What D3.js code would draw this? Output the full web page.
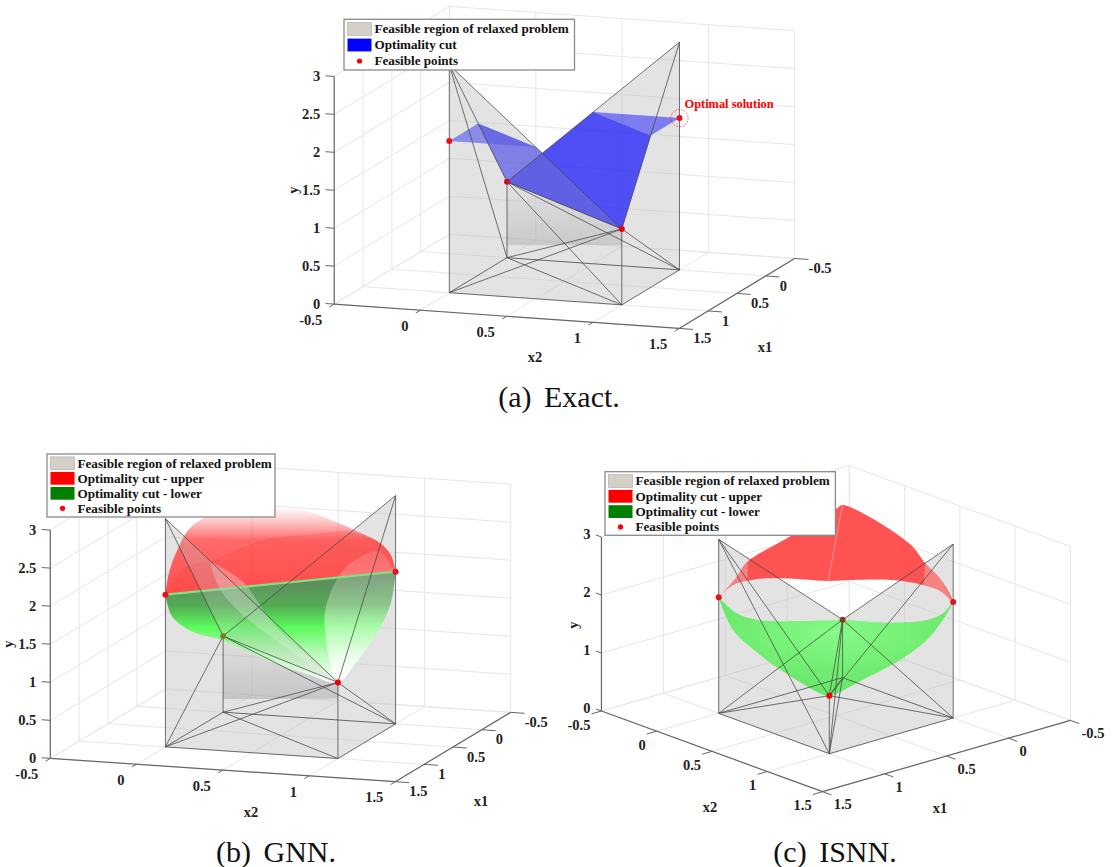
<!DOCTYPE html>
<head>
  <meta charset="utf-8">
  <script src="https://d3js.org/d3.v7.min.js"></script>
  <style>
    html, body { margin: 0; background: #fff; }
    text { font-family: "Liberation Serif", serif; }
  </style>
</head>
<body>
  <script>
    // axis ticks
    var xTicks = [-0.5, 0, 0.5, 1, 1.5];
    var xTickLabels = ["-0.5", "0", "0.5", "1", "1.5"];
    var yTicksFine = [0, 0.5, 1, 1.5, 2, 2.5, 3];
    var yTicksCoarse = [0, 1, 2, 3];

    // feasible points [x1, x2, y]
    var feasiblePoints = [[1, 0, 2], [0, 1, 2], [0, 0, 1], [1, 1, 1]];

    // faces of the relaxed region, [x1, x2, y]
    var faceBottom = [[1, 0, 0], [1, 1, 0], [0, 1, 0], [0, 0, 0]];
    var faceBackA = [[1, 0, 0], [0, 0, 0], [0, 0, 1], [1, 0, 3]];
    var faceBackB = [[0, 0, 0], [0, 1, 0], [0, 1, 3], [0, 0, 1]];
    var faceRight = [[1, 1, 0], [0, 1, 0], [0, 1, 3], [1, 1, 1]];
    var faceFront = [[1, 0, 0], [1, 1, 0], [1, 1, 1], [1, 0, 3]];
    var faceTopA = [[1, 0, 3], [0, 0, 1], [1, 1, 1]];
    var faceTopB = [[0, 1, 3], [0, 0, 1], [1, 1, 1]];
    var shadeFace = [[1, 0.334, 0.68], [1, 1, 0.788], [1, 1, 1.008], [1, 0.334, 1.498]];

    // polytope edges
    var edgesCommon = [
      [[1, 0, 0], [1, 1, 0]], [[1, 1, 0], [0, 1, 0]], [[0, 1, 0], [0, 0, 0]], [[0, 0, 0], [1, 0, 0]],
      [[1, 0, 0], [1, 0, 3]], [[0, 1, 0], [0, 1, 3]], [[0, 0, 0], [0, 0, 1]], [[1, 1, 0], [1, 1, 1]],
      [[1, 0, 3], [0, 0, 1]], [[1, 0, 3], [1, 1, 1]], [[0, 1, 3], [0, 0, 1]], [[0, 1, 3], [1, 1, 1]],
      [[0, 0, 1], [1, 1, 1]], [[0, 0, 0], [1, 1, 1]], [[0, 0, 0], [1, 1, 0]],
      [[1, 0, 0], [1, 1, 1]], [[0, 0, 1], [0, 1, 0]], [[1, 1, 1], [0, 1, 0]]
    ];
    var edgesA = [[[1, 0, 3], [0, 0, 0]], [[0, 0, 1], [1, 1, 0]]];
    var edgesB = [[[1, 0, 0], [0, 0, 1]]];
    var edgesC = [[[1, 0, 3], [1, 1, 0]], [[0, 0, 1], [1, 1, 0]], [[1, 0, 0], [0, 0, 1]]];

    // exact cut pieces
    var cutFlatA = [[1, 0, 2], [0.5, 0, 2], [1, 0.5, 2]];
    var cutFlatB = [[0, 1, 2], [0, 0.5, 2], [0.5, 1, 2]];
    var cutSlopeA = [[0.5, 0, 2], [1, 0.5, 2], [1, 1, 1], [0, 0, 1]];
    var cutSlopeB = [[0, 0.5, 2], [0.5, 1, 2], [1, 1, 1], [0, 0, 1]];

    // GNN outlines, u runs along x2 = u, x1 = 1 - u
    var gnnUpperU = [0, 0.015, 0.052, 0.112, 0.239, 0.404, 0.553, 0.703, 0.852, 0.934, 0.979, 1];
    var gnnUpperY = [2, 2.276, 2.571, 2.86, 3.018, 3.012, 2.976, 2.79, 2.548, 2.392, 2.225, 2];
    var gnnBandU = [0, 0.06, 0.119, 0.194, 0.299, 0.433, 0.628, 0.777, 0.927, 0.979, 1];
    var gnnBandY = [2, 2.262, 2.353, 2.374, 2.474, 2.587, 2.594, 2.592, 2.394, 2.225, 2];
    var gnnLowerU = [0, 0.03, 0.119, 0.248, 0.329, 0.478, 0.628, 0.747, 0.837, 0.927, 0.979, 1];
    var gnnLowerY = [2, 1.701, 1.477, 1.329, 1.195, 0.953, 0.754, 0.622, 0.888, 1.255, 1.59, 2];
    var gnnGlassU = [1, 0.927, 0.837, 0.762, 0.695, 0.703, 0.747, 0.837, 0.927, 0.979, 1];
    var gnnGlassY = [2, 2.284, 2.224, 2.05, 1.588, 1.104, 0.622, 0.888, 1.255, 1.59, 2];
    var gnnWedgeU = [0.194, 0.239, 0.329, 0.478, 0.747, 0.478, 0.329, 0.194];
    var gnnWedgeY = [2.374, 1.989, 1.655, 1.259, 0.622, 1.434, 2.093, 2.374];

    // ISNN outlines
    var isnnUpperU = [0, 0.077, 0.123, 0.291, 0.505, 0.528, 0.812, 0.881, 0.949, 1, 0.949, 0.873, 0.735, 0.567, 0.467, 0.276, 0.153, 0.061, 0];
    var isnnUpperY = [2, 2.363, 2.625, 3.041, 3.575, 3.634, 2.997, 2.657, 2.375, 2, 2.174, 2.283, 2.358, 2.344, 2.319, 2.35, 2.322, 2.218, 2];
    var isnnLowerU = [0, 0.077, 0.168, 0.352, 0.528, 0.735, 0.888, 0.957, 1, 0.965, 0.888, 0.75, 0.613, 0.505, 0.469, 0.276, 0.168, 0.061, 0];
    var isnnLowerY = [2, 1.73, 1.623, 1.62, 1.652, 1.622, 1.68, 1.801, 2, 1.744, 1.336, 0.922, 0.624, 0.386, 0.337, 0.741, 1.048, 1.442, 2];
    var isnnCrease = [[0.472, 0.528, 3.634], [0.533, 0.467, 2.319]];
    var isnnEndLeftU = [0, 0.077, 0.123, 0.123, 0.061, 0];
    var isnnEndLeftY = [2, 2.363, 2.625, 2.31, 2.218, 2];
    var isnnEndRightU = [1, 0.949, 0.881, 0.873, 0.949, 1];
    var isnnEndRightY = [2, 2.375, 2.657, 2.283, 2.174, 2];

    // legends
    var legendExact = ["Feasible region of relaxed problem", "Optimality cut", "Feasible points"];
    var legendLearned = ["Feasible region of relaxed problem", "Optimality cut - upper", "Optimality cut - lower", "Feasible points"];

    var svg = d3.select("body").append("svg")
      .attr("width", 1113)
      .attr("height", 867)
      .style("display", "block");

    var defs = svg.append("defs");

    function addGradient(id, stops) {
      var g = defs.append("linearGradient").attr("id", id)
        .attr("x1", 0).attr("x2", 0).attr("y1", 0).attr("y2", 1);
      stops.forEach(function(s) {
        g.append("stop").attr("offset", s[0]).attr("stop-color", s[1]).attr("stop-opacity", s[2]);
      });
    }
    addGradient("redFade", [[0, "#ff5050", 0], [0.18, "#ff5050", 0.35], [0.38, "#ff5050", 0.85], [1, "#ff4a4a", 0.95]]);
    addGradient("greenFade", [[0, "#4a6f4a", 0.85], [0.3, "#3a9f3a", 0.85], [0.5, "#44ff44", 0.85], [0.75, "#b4ffb4", 0.8], [1, "#ffffff", 1]]);
    addGradient("glassFade", [[0, "#ffffff", 0.12], [0.35, "#ffffff", 0.3], [0.75, "#ffffff", 0.6], [1, "#ffffff", 0.85]]);
    addGradient("shadeFade", [[0, "#b0b0b0", 0.05], [0.55, "#a8a8a8", 0.3], [1, "#a0a0a0", 0.45]]);

    var greenGlow = defs.append("radialGradient").attr("id", "greenGlow")
      .attr("cx", 0.5).attr("cy", 0.35).attr("r", 0.6);
    greenGlow.append("stop").attr("offset", 0).attr("stop-color", "#78ff78").attr("stop-opacity", 0.85);
    greenGlow.append("stop").attr("offset", 1).attr("stop-color", "#3fe83f").attr("stop-opacity", 0.75);

    // orthographic view: one pair of scales per data axis
    function makeView(v) {
      function s(vec, i) { return d3.scaleLinear().domain([0, 1]).range([0, vec[i]]); }
      var x1x = s(v.x1, 0), x1y = s(v.x1, 1), x2x = s(v.x2, 0), x2y = s(v.x2, 1), yy = s(v.y, 1);
      return function(p) {
        return [v.origin[0] + x1x(p[0]) + x2x(p[1]), v.origin[1] + x1y(p[0]) + x2y(p[1]) + yy(p[2])];
      };
    }

    // join the u and y arrays into [x1, x2, y]
    function outline(u, y) {
      return u.map(function(d, i) { return [1 - d, d, y[i]]; });
    }

    function drawPanel(c) {
      var proj = makeView(c.view);
      var g = svg.append("g");
      var poly = function(pts) { return "M" + pts.map(proj).join("L") + "Z"; };
      var segment = function(layer, a, b, color, w) {
        var p = proj(a), q = proj(b);
        layer.append("line").attr("x1", p[0]).attr("y1", p[1]).attr("x2", q[0]).attr("y2", q[1])
          .attr("stroke", color).attr("stroke-width", w);
      };

      // grid on floor and the two back walls
      var grid = g.append("g");
      xTicks.forEach(function(t) {
        segment(grid, [t, -0.5, 0], [t, 1.5, 0], "#e6e6e6", 1);
        segment(grid, [-0.5, t, 0], [1.5, t, 0], "#e6e6e6", 1);
        segment(grid, [-0.5, t, 0], [-0.5, t, 3], "#e6e6e6", 1);
        segment(grid, [t, -0.5, 0], [t, -0.5, 3], "#e6e6e6", 1);
      });
      c.yTicks.forEach(function(t) {
        segment(grid, [-0.5, -0.5, t], [-0.5, 1.5, t], "#e6e6e6", 1);
        segment(grid, [-0.5, -0.5, t], [1.5, -0.5, t], "#e6e6e6", 1);
      });

      // axes and ticks
      var axes = g.append("g");
      segment(axes, [1.5, -0.5, 0], [1.5, -0.5, 3], "#666", 1.2);
      segment(axes, [1.5, -0.5, 0], [1.5, 1.5, 0], "#666", 1.2);
      segment(axes, [1.5, 1.5, 0], [-0.5, 1.5, 0], "#666", 1.2);
      var tickText = function(p, dx, dy, anchor, label) {
        axes.append("text").attr("x", p[0] + dx).attr("y", p[1] + dy)
          .attr("text-anchor", anchor).attr("font-size", 14.5).attr("font-weight", "bold")
          .attr("fill", "#222").attr("dy", "0.33em").text(label);
      };
      xTicks.forEach(function(t, i) {
        segment(axes, [1.5, t, 0], [1.58, t, 0], "#666", 1);
        segment(axes, [t, 1.5, 0], [t, 1.58, 0], "#666", 1);
        tickText(proj([1.5, t, 0]), c.x2Label[0], c.x2Label[1], "end", xTickLabels[i]);
        tickText(proj([t, 1.5, 0]), c.x1Label[0], c.x1Label[1], "start", xTickLabels[i]);
      });
      c.yTicks.forEach(function(t) {
        segment(axes, [1.5, -0.5, t], [1.5, -0.55, t], "#666", 1);
        tickText(proj([1.5, -0.5, t]), c.yLabel[0], c.yLabel[1], "end", String(t));
      });

      // relaxed region, some faces sit under the cut and some over it
      var gray = function(face) {
        g.append("path").attr("d", poly(face)).attr("fill", "#c4c4c4").attr("fill-opacity", 0.27);
      };
      c.facesUnder.forEach(gray);
      if (c.shade) g.append("path").attr("d", poly(shadeFace)).attr("fill", "url(#shadeFade)");

      c.drawCut(g, proj, poly);

      c.facesOver.forEach(gray);
      if (c.drawAfter) c.drawAfter(g, proj, poly);

      // mesh lines
      edgesCommon.concat(c.edges).forEach(function(e) { segment(g, e[0], e[1], "#444", 0.75); });

      // feasible points
      g.selectAll("circle.pt").data(feasiblePoints).enter().append("circle")
        .attr("class", "pt")
        .attr("cx", function(d) { return proj(d)[0]; })
        .attr("cy", function(d) { return proj(d)[1]; })
        .attr("r", 3)
        .attr("fill", function(d, i) { return c.pointColors[i]; });

      // axis names
      c.names.forEach(function(n) {
        var t = g.append("text").attr("font-size", 14.5).attr("font-weight", "bold").attr("fill", "#222")
          .attr("text-anchor", "middle").attr("dy", "0.33em").text(n[0]);
        if (n[0] == "y") t.attr("transform", "translate(" + n[1] + "," + n[2] + ") rotate(-90)");
        else t.attr("x", n[1]).attr("y", n[2]);
      });

      // legend
      var L = c.legend;
      var lg = g.append("g");
      lg.append("rect").attr("x", L.x).attr("y", L.y).attr("width", L.w).attr("height", L.h)
        .attr("fill", "#fff").attr("stroke", "#8a8a8a").attr("stroke-width", 1.3);
      L.labels.forEach(function(label, i) {
        var cy = L.y + L.first + i * L.step;
        if (L.colors[i] == "dot") {
          lg.append("circle").attr("cx", L.x + 15.5).attr("cy", cy).attr("r", 2.6).attr("fill", "#f00");
        } else {
          lg.append("rect").attr("x", L.x + 3.5).attr("y", cy - 6.4).attr("width", 24).attr("height", 12.8)
            .attr("fill", L.colors[i]).attr("stroke", i == 0 ? "#aaa" : "none").attr("stroke-width", 0.6);
        }
        lg.append("text").attr("x", L.x + 30.5).attr("y", cy).attr("dy", "0.33em")
          .attr("font-size", 13.15).attr("font-weight", "bold").attr("fill", "#111").text(label);
      });

      // caption
      svg.append("text").attr("x", c.caption[1]).attr("y", c.caption[2])
        .attr("text-anchor", "middle").attr("font-size", 30).attr("fill", "#111")
        .attr("word-spacing", 5).text(c.caption[0]);
    }

    drawPanel({
      view: {origin: [507, 257.7], x1: [-57.7, 35], x2: [172.5, 12.17], y: [0, -75.9]},
      yTicks: yTicksFine,
      x2Label: [-12, 16], x1Label: [14, 10], yLabel: [-14, 0],
      edges: edgesA,
      shade: true,
      facesUnder: [faceBottom, faceBackA, faceBackB, faceRight, faceTopB],
      facesOver: [faceFront, faceTopA],
      pointColors: ["#e8101c", "#e8101c", "#c8102c", "#f00000"],
      names: [["x2", 535, 357], ["x1", 765, 347], ["y", 293, 190]],
      caption: ["(a) Exact.", 559, 407],
      legend: {x: 344, y: 19.3, w: 230.5, h: 50.7, first: 9.7, step: 16, labels: legendExact, colors: ["#d4d0c8", "#0000ff", "dot"]},
      drawCut: function(g, proj, poly) {
        g.append("path").attr("d", poly(cutSlopeA)).attr("fill", "#0000ff").attr("fill-opacity", 0.62);
        g.append("path").attr("d", poly(cutFlatA)).attr("fill", "#0000ff").attr("fill-opacity", 0.5);
        g.append("path").attr("d", poly(cutSlopeB)).attr("fill", "#0000ff").attr("fill-opacity", 0.65);
        g.append("path").attr("d", poly(cutFlatB)).attr("fill", "#0000ff").attr("fill-opacity", 0.45);
      },
      drawAfter: function(g, proj, poly) {
        g.append("path").attr("d", poly(cutSlopeA)).attr("fill", "#0000ff").attr("fill-opacity", 0.1);
      }
    });

    drawPanel({
      view: {origin: [223.1, 712.2], x1: [-57.7, 34.67], x2: [172.5, 11.67], y: [0, -76.1]},
      yTicks: yTicksFine,
      x2Label: [-12, 16], x1Label: [14, 10], yLabel: [-14, 0],
      edges: edgesB,
      shade: true,
      facesUnder: [faceBottom, faceBackA, faceBackB, faceRight, faceFront, faceTopB],
      facesOver: [faceTopA],
      pointColors: ["#e8101c", "#e8101c", "#7f7f28", "#f00000"],
      names: [["x2", 251, 812], ["x1", 481, 801], ["y", 8, 644]],
      caption: ["(b) GNN.", 276, 862],
      legend: {x: 47, y: 454, w: 228, h: 63, first: 9.3, step: 15, labels: legendLearned, colors: ["#d4d0c8", "#ff0000", "#008000", "dot"]},
      drawCut: function(g, proj, poly) {
        var curve = d3.line().curve(d3.curveCatmullRom.alpha(0.5)).x(function(d) { return proj(d)[0]; }).y(function(d) { return proj(d)[1]; });
        g.append("path").attr("d", curve(outline(gnnUpperU, gnnUpperY))).attr("fill", "url(#redFade)");
        g.append("path").attr("d", curve(outline(gnnBandU, gnnBandY))).attr("fill", "#ff3030").attr("fill-opacity", 0.2)
          .attr("stroke", "#b04040").attr("stroke-opacity", 0.2).attr("stroke-width", 0.6);
        g.append("path").attr("d", curve(outline(gnnLowerU, gnnLowerY))).attr("fill", "url(#greenFade)");
        g.append("path").attr("d", curve(outline(gnnGlassU, gnnGlassY))).attr("fill", "url(#glassFade)");
        g.append("path").attr("d", curve(outline(gnnWedgeU, gnnWedgeY))).attr("fill", "#fff").attr("fill-opacity", 0.28);
        var a = proj(feasiblePoints[0]), b = proj(feasiblePoints[1]);
        g.append("line").attr("x1", a[0]).attr("y1", a[1]).attr("x2", b[0]).attr("y2", b[1])
          .attr("stroke", "#7fe07f").attr("stroke-width", 2.2);
      }
    });

    drawPanel({
      view: {origin: [842.6, 677.67], x1: [-123.9, 35.67], x2: [110.6, 40.33], y: [0, -58]},
      yTicks: yTicksCoarse,
      x2Label: [-11, 14], x1Label: [11, 13], yLabel: [-11, -3],
      edges: edgesC,
      shade: false,
      facesUnder: [faceBottom, faceBackA, faceBackB, faceRight, faceFront, faceTopA, faceTopB],
      facesOver: [],
      pointColors: ["#e8101c", "#e8101c", "#8a3a1a", "#f00000"],
      names: [["x2", 710, 807], ["x1", 940, 808], ["y", 573, 625]],
      caption: ["(c) ISNN.", 835, 862],
      legend: {x: 605, y: 471.7, w: 230.4, h: 63.6, first: 9.3, step: 15.3, labels: legendLearned, colors: ["#d4d0c8", "#ff0000", "#008000", "dot"]},
      drawCut: function(g, proj, poly) {
        var curve = d3.line().curve(d3.curveCatmullRom.alpha(0.5)).x(function(d) { return proj(d)[0]; }).y(function(d) { return proj(d)[1]; });
        g.append("path").attr("d", curve(outline(isnnUpperU, isnnUpperY))).attr("fill", "#ff4a4a").attr("fill-opacity", 0.95);
        g.append("path").attr("d", poly(outline(isnnEndLeftU, isnnEndLeftY))).attr("fill", "#e8e8e8").attr("fill-opacity", 0.32);
        g.append("path").attr("d", poly(outline(isnnEndRightU, isnnEndRightY))).attr("fill", "#e8e8e8").attr("fill-opacity", 0.32);
        var a = proj(isnnCrease[0]), b = proj(isnnCrease[1]);
        g.append("line").attr("x1", a[0]).attr("y1", a[1]).attr("x2", b[0]).attr("y2", b[1])
          .attr("stroke", "#ffa0a0").attr("stroke-width", 0.8);
        g.append("path").attr("d", curve(outline(isnnLowerU, isnnLowerY))).attr("fill", "url(#greenGlow)");
      }
    });

    // optimal solution marker in panel a
    var viewA = makeView({origin: [507, 257.7], x1: [-57.7, 35], x2: [172.5, 12.17], y: [0, -75.9]});
    var best = viewA(feasiblePoints[1]);
    svg.append("circle").attr("cx", best[0]).attr("cy", best[1]).attr("r", 8.6)
      .attr("fill", "none").attr("stroke", "#f00").attr("stroke-width", 0.7).attr("stroke-dasharray", "1.5,1.5");
    svg.append("text").attr("x", best[0] + 5).attr("y", best[1] - 14).attr("dy", "0.33em")
      .attr("font-size", 12.4).attr("font-weight", "bold").attr("fill", "#f00").text("Optimal solution");
  </script>
</body>
